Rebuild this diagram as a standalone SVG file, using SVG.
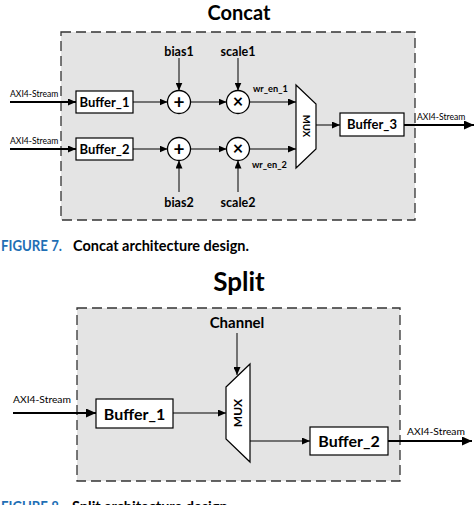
<svg xmlns="http://www.w3.org/2000/svg" width="474" height="505" viewBox="0 0 474 505">
<defs>
<style>
text{font-family:Lato,"Liberation Sans",sans-serif;fill:#000}
.b{font-weight:bold}
.frame{fill:#e4e4e4;stroke:#333;stroke-width:1.3;stroke-dasharray:10 5}
.box{fill:#fff;stroke:#000;stroke-width:1.2}
.ln{stroke:#000;stroke-width:1;fill:none}
.th{stroke:#000;stroke-width:2.2;fill:none}
.op{fill:#fff;stroke:#000;stroke-width:1.3}
.cap{fill:#1f6fb5}
</style>
<marker id="a" markerUnits="userSpaceOnUse" markerWidth="8" markerHeight="7" refX="8" refY="3.5" orient="auto"><path d="M0,0 L8,3.5 L0,7 z" fill="#000"/></marker>
<marker id="A" markerUnits="userSpaceOnUse" markerWidth="10" markerHeight="9" refX="10" refY="4.5" orient="auto"><path d="M0,0 L10,4.5 L0,9 z" fill="#000"/></marker>
</defs>
<rect width="474" height="505" fill="#fff"/>

<!-- Concat -->
<text x="239" y="19.5" text-anchor="middle" class="b" font-size="20">Concat</text>
<rect id="concat-frame" class="frame" x="61" y="32" width="354" height="188"/>

<g id="connectors-concat">
<line class="th" x1="10" y1="102" x2="76" y2="102" marker-end="url(#a)"/>
<line class="th" x1="10" y1="149" x2="76" y2="149" marker-end="url(#a)"/>
<line class="ln" x1="133" y1="102" x2="167.5" y2="102" marker-end="url(#a)"/>
<line class="ln" x1="133" y1="149" x2="167.5" y2="149" marker-end="url(#a)"/>
<line class="ln" x1="190.5" y1="102" x2="226.5" y2="102" marker-end="url(#a)"/>
<line class="ln" x1="190.5" y1="149" x2="226.5" y2="149" marker-end="url(#a)"/>
<line class="ln" x1="249.5" y1="102" x2="296" y2="102" marker-end="url(#a)"/>
<line class="ln" x1="249.5" y1="149" x2="296" y2="149" marker-end="url(#a)"/>
<line class="ln" x1="179" y1="58" x2="179" y2="90.5" marker-end="url(#a)"/>
<line class="ln" x1="238" y1="58" x2="238" y2="90.5" marker-end="url(#a)"/>
<line class="ln" x1="179" y1="192" x2="179" y2="160.5" marker-end="url(#a)"/>
<line class="ln" x1="238" y1="192" x2="238" y2="160.5" marker-end="url(#a)"/>
<line class="ln" x1="316" y1="125" x2="340" y2="125" marker-end="url(#a)"/>
<line class="th" x1="404" y1="125" x2="474" y2="125" marker-end="url(#A)"/>
</g>

<text x="10" y="97" font-size="8.6">AXI4-Stream</text>
<text x="10" y="144" font-size="8.6">AXI4-Stream</text>
<text x="417" y="120" font-size="8.6">AXI4-Stream</text>
<text x="179" y="56" text-anchor="middle" class="b" font-size="12.5">bias1</text>
<text x="238" y="56" text-anchor="middle" class="b" font-size="12.5">scale1</text>
<text x="179" y="207" text-anchor="middle" class="b" font-size="12.5">bias2</text>
<text x="238" y="207" text-anchor="middle" class="b" font-size="12.5">scale2</text>
<text x="253" y="92" class="b" font-size="9.2">wr_en_1</text>
<text x="252" y="168" class="b" font-size="9.2">wr_en_2</text>

<g id="c-buffer1"><rect class="box" x="76" y="91" width="57" height="22"/><text x="104.5" y="106.5" text-anchor="middle" class="b" font-size="13">Buffer_1</text></g>
<g id="c-buffer2"><rect class="box" x="76" y="138" width="57" height="22"/><text x="104.5" y="153.5" text-anchor="middle" class="b" font-size="13">Buffer_2</text></g>
<g id="c-add1"><circle class="op" cx="179" cy="102" r="11.5"/><text x="179" y="108.5" text-anchor="middle" class="b" font-size="19">+</text></g>
<g id="c-mul1"><circle class="op" cx="238" cy="102" r="11.5"/><text x="238" y="108" text-anchor="middle" class="b" font-size="18">×</text></g>
<g id="c-add2"><circle class="op" cx="179" cy="149" r="11.5"/><text x="179" y="155.5" text-anchor="middle" class="b" font-size="19">+</text></g>
<g id="c-mul2"><circle class="op" cx="238" cy="149" r="11.5"/><text x="238" y="155" text-anchor="middle" class="b" font-size="18">×</text></g>
<g id="c-mux"><polygon class="box" points="296,85 316,104 316,149 296,168"/><text transform="translate(306,126) rotate(90)" text-anchor="middle" y="3.3" class="b" font-size="9.5">MUX</text></g>
<g id="c-buffer3"><rect class="box" x="340" y="113" width="64" height="23"/><text x="372" y="129" text-anchor="middle" class="b" font-size="13">Buffer_3</text></g>

<text x="1" y="251" class="b cap" font-size="14.5" textLength="61" lengthAdjust="spacingAndGlyphs">FIGURE 7.</text>
<text x="73" y="251" class="b" font-size="14.5">Concat architecture design.</text>

<!-- Split -->
<text x="239" y="291" text-anchor="middle" class="b" font-size="26">Split</text>
<rect id="split-frame" class="frame" x="77" y="308" width="323" height="173"/>

<g id="connectors-split">
<line class="ln" x1="237" y1="333" x2="237" y2="375" marker-end="url(#a)"/>
<line class="th" x1="13" y1="413" x2="96" y2="413" marker-end="url(#A)"/>
<line class="ln" x1="173" y1="413" x2="226" y2="413" marker-end="url(#a)"/>
<line class="ln" x1="250" y1="441" x2="310" y2="441" marker-end="url(#a)"/>
<line class="th" x1="388" y1="441" x2="472" y2="441" marker-end="url(#A)"/>
</g>

<text x="237" y="328" text-anchor="middle" class="b" font-size="15">Channel</text>
<text x="13" y="403" font-size="10.3">AXI4-Stream</text>
<text x="407" y="435" font-size="10.3">AXI4-Stream</text>

<g id="s-buffer1"><rect class="box" x="96" y="399" width="77" height="29"/><text x="134.5" y="419.5" text-anchor="middle" class="b" font-size="16">Buffer_1</text></g>
<g id="s-mux"><polygon class="box" points="226,387 250,364 250,462 226,439"/><text transform="translate(238,413) rotate(-90)" text-anchor="middle" y="4.2" class="b" font-size="12">MUX</text></g>
<g id="s-buffer2"><rect class="box" x="310" y="427" width="78" height="28"/><text x="349" y="447" text-anchor="middle" class="b" font-size="16">Buffer_2</text></g>

<text x="1" y="512" class="b cap" font-size="14.5" textLength="61" lengthAdjust="spacingAndGlyphs">FIGURE 8.</text>
<text x="72" y="512" class="b" font-size="14.5">Split architecture design.</text>
</svg>
